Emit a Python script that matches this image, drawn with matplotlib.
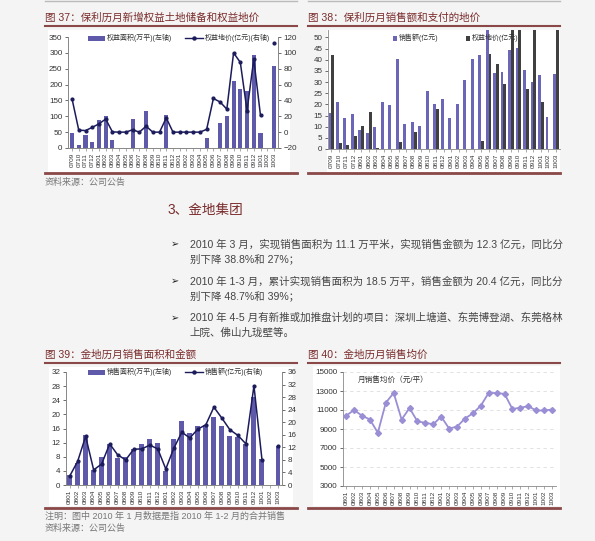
import matplotlib.pyplot as plt
import numpy as np
from matplotlib.lines import Line2D
from matplotlib.patches import Rectangle

plt.rcParams['font.family'] = ['Liberation Sans', 'Noto Sans CJK SC', 'DejaVu Sans']

# 图37 / 图38 保利 (0709 - 1003)
months_poly = ['0709', '0710', '0711', '0712',
               '0801', '0802', '0803', '0804', '0805', '0806', '0807', '0808', '0809', '0810', '0811', '0812',
               '0901', '0902', '0903', '0904', '0905', '0906', '0907', '0908', '0909', '0910', '0911', '0912',
               '1001', '1002', '1003']
land_area = [48, 8, 42, 18, 88, 100, 26, 0, 0, 92, 0, 118, 0, 0, 105, 0,
             0, 0, 0, 0, 30, 0, 78, 100, 210, 185, 180, 292, 46, 0, 258]
land_price_line = [42, 2.5, 2, 6, 10.5, 16.5, 0.3, 0, 0, 3, 0, 7.5, 0, 0, 18, 0,
                   0, 0, 0, 0, 3.5, 42.5, 38, 29, 100, 88, 27, 92, 21, np.nan, 113]
poly_sales = [16, 21, 14, 15.5, 8.5, 7, 10, 21, 19.5, 40.5, 11, 12, 10.5, 26, 20.3, 22.3,
              14, 20.3, 31, 40.2, 42, 55, 34.2, 34.7, 44.3, 45.3, 35.2, 30, 33, 14.5, 33.6]
poly_land_paid = [42, 2.5, 2, 6, 10.5, 16.5, 0.3, 0, 0, 3, 0, 7.5, 0, 0, 18, 0,
                  0, 0, 0, 0, 3.5, 42.5, 38, 29, 100, 88, 27, 92, 21, 0, 113]

# 图39 / 图40 金地 (0801 - 1003)
months_gd = ['0801', '0802', '0803', '0804', '0805', '0806', '0807', '0808', '0809', '0810', '0811', '0812',
             '0901', '0902', '0903', '0904', '0905', '0906', '0907', '0908', '0909', '0910', '0911', '0912',
             '1001', '1002', '1003']
gd_area = [2.7, 6.3, 14.2, 4.3, 7.8, 11.5, 7.6, 7.8, 10.2, 11.6, 13.1, 11.8,
           4.1, 13, 18.2, 14.7, 16.8, 16.9, 19.2, 16.6, 13.9, 13.7, 11.6, 25, 7.4, 0, 11.1]
gd_sales = [2.8, 7.5, 15.5, 4.8, 6.7, 13.1, 9.6, 8, 11.4, 11.5, 12.7, 11.5,
            5.1, 11.7, 16.8, 15, 17.8, 19.2, 24.8, 21.3, 17.6, 15.8, 13.1, 31.6, 8.1, np.nan, 12.3]
gd_price = [10400, 11000, 10400, 10000, 8600, 11750, 12800, 10000, 11200, 9800, 9650, 9500,
            10300, 9050, 9250, 10100, 10650, 11450, 12800, 12780, 12700, 11100, 11250, 11400,
            10950, 10950, 11050]

W, H = 595, 541
BG = '#f4f4f4'
TITLE_C = '#7a2b2b'
RULE_C = '#8a4848'
BAR_C = '#5e59a8'
NAVY = '#1c1c5c'
TICK_C = '#333333'

fig = plt.figure(figsize=(W / 100, H / 100), dpi=100, facecolor=BG)


def box(x0, y0, x1, y1):
    return [x0 / W, 1 - y1 / H, (x1 - x0) / W, (y1 - y0) / H]


def hline(x0, x1, y, color=RULE_C, lw=1.5):
    fig.add_artist(Line2D([x0 / W, x1 / W], [1 - y / H, 1 - y / H], color=color, lw=lw,
                          transform=fig.transFigure))


def ftext(x, y, s, **kw):
    fig.text(x / W, 1 - y / H, s, va='center', **kw)


def panel(x0, y0, x1, y1):
    fig.add_artist(Rectangle((x0 / W, 1 - y1 / H), (x1 - x0) / W, (y1 - y0) / H,
                             facecolor='white', edgecolor='none', zorder=-5,
                             transform=fig.transFigure))


def style(ax, labels, right=False):
    ax.set_facecolor('none')
    for s in ['top'] + ([] if right else ['right']):
        ax.spines[s].set_visible(False)
    for s in ax.spines.values():
        s.set_color('#888888')
        s.set_linewidth(0.6)
    ax.set_xticks(range(len(labels)))
    ax.set_xticklabels(labels, rotation=90, fontsize=4.6, color=TICK_C)
    ax.tick_params(axis='y', labelsize=5.8, colors=TICK_C, length=2, width=0.5, pad=2)
    ax.tick_params(axis='x', length=2, width=0.5, pad=1.5, labelcolor=TICK_C, color='#888888')


def style_right(ax2):
    ax2.spines['top'].set_visible(False)
    for s in ax2.spines.values():
        s.set_color('#888888')
        s.set_linewidth(0.6)
    ax2.tick_params(axis='y', labelsize=5.8, colors=TICK_C, length=2, width=0.5, pad=2)


def legend_bar(x, y, text, color):
    fig.add_artist(Rectangle((x / W, 1 - (y + 2.5) / H), 17 / W, 5 / H, facecolor=color,
                             edgecolor='none', transform=fig.transFigure))
    ftext(x + 19, y, text, fontsize=5, color=TICK_C)


def legend_line(x, y, text, color):
    fig.add_artist(Line2D([x / W, (x + 18) / W], [1 - y / H] * 2, color=color, lw=1,
                          transform=fig.transFigure))
    fig.add_artist(Line2D([(x + 9) / W], [1 - y / H], color=color, marker='o', markersize=2.2,
                          transform=fig.transFigure))
    ftext(x + 20, y, text, fontsize=5, color=TICK_C)


# ---- 页面框架 ----
hline(45, 297, 1, color='#bbbbbb', lw=1)
hline(308, 560, 1, color='#bbbbbb', lw=1)

ftext(45, 18, '图 37：保利历月新增权益土地储备和权益地价', fontsize=7.6, color=TITLE_C)
ftext(308, 18, '图 38：保利历月销售额和支付的地价', fontsize=7.6, color=TITLE_C)
hline(45, 297, 26)
hline(308, 560, 26)
panel(48, 30, 290, 172)
panel(327, 30, 560, 172)
hline(45, 297, 173, lw=2)
hline(308, 560, 173, lw=2)
ftext(45, 182, '资料来源：公司公告', fontsize=6.5, color='#777777')

# ---- 图37 ----
x = np.arange(len(months_poly))
ax = fig.add_axes(box(68, 37, 278, 148))
ax.bar(x, land_area, width=0.6, color=BAR_C, zorder=2)
ax.set_ylim(0, 350)
ax.set_yticks(range(0, 351, 50))
ax.set_xlim(-0.6, 30.6)
style(ax, months_poly, right=True)
ax2 = ax.twinx()
ax2.plot(x, land_price_line, color=NAVY, lw=1.1, marker='o', markersize=2, zorder=3)
ax2.set_ylim(-20, 120)
ax2.set_yticks(range(-20, 121, 20))
style_right(ax2)
legend_bar(88, 38, '权益面积(万平)(左轴)', BAR_C)
legend_line(185, 38, '权益地价(亿元)(右轴)', NAVY)

# ---- 图38 ----
ax = fig.add_axes(box(328, 30, 560, 149))
ax.bar(x - 0.19, poly_sales, width=0.38, color='#6b66b8', zorder=2)
ax.bar(x + 0.19, poly_land_paid, width=0.38, color='#404040', zorder=2)
ax.set_ylim(0, 53.3)
ax.set_yticks(range(0, 51, 5))
ax.set_xlim(-0.45, 30.55)
style(ax, months_poly)
fig.add_artist(Rectangle((393 / W, 1 - 40.5 / H), 4 / W, 5 / H, facecolor='#6b66b8',
                         transform=fig.transFigure))
ftext(399, 38, '销售额(亿元)', fontsize=5, color=TICK_C)
fig.add_artist(Rectangle((466 / W, 1 - 40.5 / H), 4 / W, 5 / H, facecolor='#404040',
                         transform=fig.transFigure))
ftext(472, 38, '权益地价(亿元)', fontsize=5, color=TICK_C)

# ---- 正文 ----
BODY_C = '#444444'
ftext(168, 210, '3、金地集团', fontsize=9.8, color=TITLE_C)
body = [
    (244, '2010 年 3 月，实现销售面积为 11.1 万平米，实现销售金额为 12.3 亿元，同比分', True),
    (259, '别下降 38.8%和 27%；', False),
    (281, '2010 年 1-3 月，累计实现销售面积为 18.5 万平，销售金额为 20.4 亿元，同比分', True),
    (296, '别下降 48.7%和 39%；', False),
    (318, '2010 年 4-5 月有新推或加推盘计划的项目：深圳上塘道、东莞博登湖、东莞格林', True),
    (333, '上院、佛山九珑壁等。', False),
]
for yy, line, bullet in body:
    if bullet:
        ftext(171, yy, '➢', fontsize=7, color='#222222', family=['DejaVu Sans'])
    ftext(190, yy, line, fontsize=7.55, color=BODY_C)

# ---- 下半部分框架 ----
ftext(45, 355, '图 39：金地历月销售面积和金额', fontsize=7.6, color=TITLE_C)
ftext(308, 355, '图 40：金地历月销售均价', fontsize=7.6, color=TITLE_C)
hline(45, 297, 363)
hline(308, 560, 363)
panel(49, 367, 293, 506)
panel(313, 366, 560, 506)
hline(45, 297, 508, lw=2)
hline(308, 560, 508, lw=2)
ftext(45, 516, '注明：图中 2010 年 1 月数据是指 2010 年 1-2 月的合并销售', fontsize=6.5, color='#777777')
ftext(45, 528, '资料来源：公司公告', fontsize=6.5, color='#777777')

# ---- 图39 ----
x = np.arange(len(months_gd))
ax = fig.add_axes(box(66, 372, 282, 485))
ax.bar(x, gd_area, width=0.62, color=BAR_C, zorder=2)
ax.set_ylim(0, 32)
ax.set_yticks(range(0, 33, 4))
ax.set_xlim(-0.45, 26.5)
style(ax, months_gd, right=True)
ax2 = ax.twinx()
ax2.plot(x, gd_sales, color=NAVY, lw=1.1, marker='o', markersize=2, zorder=3)
ax2.set_ylim(0, 36)
ax2.set_yticks(range(0, 37, 4))
style_right(ax2)
legend_bar(88, 372, '销售面积(万平)(左轴)', BAR_C)
legend_line(185, 372, '销售额(亿元)(右轴)', NAVY)

# ---- 图40 ----
ax = fig.add_axes(box(343, 372, 556, 486))
ax.plot(x, gd_price, color='#9a8fd4', lw=1.3, marker='D', markersize=3, zorder=3)
ax.set_ylim(3000, 15000)
ax.set_yticks(range(3000, 15001, 2000))
ax.set_xlim(-0.4, 26.5)
style(ax, months_gd)
ax.yaxis.grid(True, linestyle=(0, (4, 4)), color='#dddddd', lw=0.6)
ax.set_axisbelow(True)
ftext(358, 380, '月销售均价（元/平）', fontsize=5.5, color=TICK_C)

fig.savefig('out.png', dpi=100, facecolor=BG)
